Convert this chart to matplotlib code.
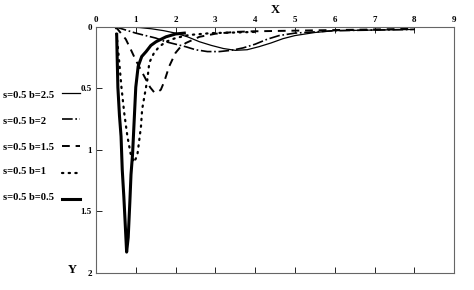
import matplotlib
matplotlib.use("Agg")
import matplotlib.pyplot as plt

# values (x, y) for s = 0.5 and different b
x_b05 = [0.52, 0.53, 0.55, 0.59, 0.63, 0.66, 0.70, 0.73, 0.77, 0.81, 0.85, 0.88,
         0.92, 0.96, 1.0, 1.06, 1.15, 1.26, 1.38, 1.51, 1.76, 2.0, 2.22]
y_b05 = [0.06, 0.21, 0.49, 0.72, 0.89, 1.16, 1.38, 1.57, 1.83, 1.71, 1.43, 1.2,
         1.03, 0.76, 0.49, 0.32, 0.24, 0.2, 0.15, 0.12, 0.08, 0.057, 0.05]

x_b1 = [0.5, 0.53, 0.58, 0.64, 0.71, 0.79, 0.87, 0.96, 1.04, 1.08, 1.13, 1.16,
        1.23, 1.29, 1.34, 1.46, 1.59, 1.76, 2.0, 2.34, 2.9, 3.5, 4.0]
y_b1 = [0.0, 0.1, 0.27, 0.49, 0.70, 0.89, 1.03, 1.1, 1.04, 0.94, 0.81, 0.67,
        0.54, 0.43, 0.29, 0.21, 0.16, 0.12, 0.09, 0.065, 0.05, 0.045, 0.04]

x_b15 = [0.5, 0.6, 0.75, 0.87, 1.0, 1.13, 1.26, 1.36, 1.46, 1.55, 1.63, 1.72,
         1.84, 2.0, 2.13, 2.26, 2.6, 3.0, 3.5, 4.0, 5.0, 6.0, 7.0, 8.0]
y_b15 = [0.0, 0.04, 0.1, 0.18, 0.27, 0.35, 0.43, 0.49, 0.53, 0.53, 0.51, 0.44,
         0.32, 0.21, 0.16, 0.13, 0.08, 0.055, 0.04, 0.035, 0.03, 0.025, 0.02, 0.015]

x_b2 = [0.5, 0.8, 1.0, 1.25, 1.5, 1.75, 2.0, 2.25, 2.5, 2.8, 3.1, 3.4, 3.7,
        4.0, 4.3, 4.6, 5.0, 5.5, 6.0, 7.0, 8.0]
y_b2 = [0.0, 0.03, 0.05, 0.07, 0.09, 0.12, 0.14, 0.16, 0.185, 0.2, 0.2, 0.19,
        0.17, 0.14, 0.1, 0.07, 0.05, 0.04, 0.03, 0.025, 0.02]

x_b25 = [0.5, 0.8, 1.1, 1.4, 1.7, 2.0, 2.3, 2.6, 2.9, 3.2, 3.5, 3.8, 4.1, 4.4,
         4.7, 5.0, 5.5, 6.0, 7.0, 8.0]
y_b25 = [0.0, 0.0, 0.005, 0.015, 0.03, 0.05, 0.08, 0.12, 0.15, 0.175, 0.19,
         0.185, 0.16, 0.13, 0.095, 0.07, 0.045, 0.03, 0.025, 0.02]

labels = ["s=0.5 b=2.5", "s=0.5 b=2", "s=0.5 b=1.5", "s=0.5 b=1", "s=0.5 b=0.5"]
x_ticks = [0, 1, 2, 3, 4, 5, 6, 7, 8, 9]
y_ticks = [0, 0.5, 1, 1.5, 2]
y_ticklabels = ["0", "0.5", "1", "1.5", "2"]

font = {"weight": "bold", "family": "Liberation Serif"}

fig = plt.figure(figsize=(4.74, 2.90), dpi=100)
ax = fig.add_axes([0.2025, 0.0586, 0.7555, 0.8484])

h1, = ax.plot(x_b25, y_b25, color="black", lw=0.9, ls="-")
h2, = ax.plot(x_b2, y_b2, color="black", lw=1.2, ls="-.")
h3, = ax.plot(x_b15, y_b15, color="black", lw=1.4, ls=(0, (4, 3)))
h4, = ax.plot(x_b1, y_b1, color="black", lw=1.6, ls=(0, (0.6, 2.4)),
              dash_capstyle="round")
h5, = ax.plot(x_b05, y_b05, color="black", lw=2.2, ls="-")

ax.set_xlim(0, 9)
ax.set_ylim(2, 0)
ax.set_xticks(x_ticks)
ax.set_yticks(y_ticks)
ax.set_yticklabels(y_ticklabels)
ax.xaxis.tick_top()
ax.tick_params(axis="x", which="both", top=True, bottom=True, direction="in",
               length=4, width=0.6, labelsize=6.5, pad=2)
ax.tick_params(axis="y", direction="in", length=4, width=0.6, labelsize=6.5, pad=3)
for lab in ax.get_xticklabels() + ax.get_yticklabels():
    lab.set_fontweight("bold")
    lab.set_family("Liberation Serif")
for sp in ax.spines.values():
    sp.set_color("#666666")
    sp.set_linewidth(0.8)

ax.xaxis.set_label_position("top")
ax.set_xlabel("X", fontsize=9, labelpad=2, **font)
fig.text(72 / 474, 1 - 270 / 290, "Y", fontsize=9, ha="center", va="center", **font)

# legend: left-aligned labels with the line samples to their right
row_y = [95, 122, 148, 172, 198]
for lab, ry in zip(labels, row_y):
    fig.text(3 / 474, 1 - ry / 290, lab, fontsize=7.6, ha="left", va="center", **font)
fig.legend([h1, h2, h3, h4, h5], [""] * 5, loc="upper left",
           bbox_to_anchor=(62 / 474, 1 - 89 / 290), frameon=False,
           handlelength=2.0, handletextpad=0.0, labelspacing=1.95,
           borderpad=0.0, borderaxespad=0.0, prop={"size": 6.5})

fig.savefig("out.png", dpi=100)
